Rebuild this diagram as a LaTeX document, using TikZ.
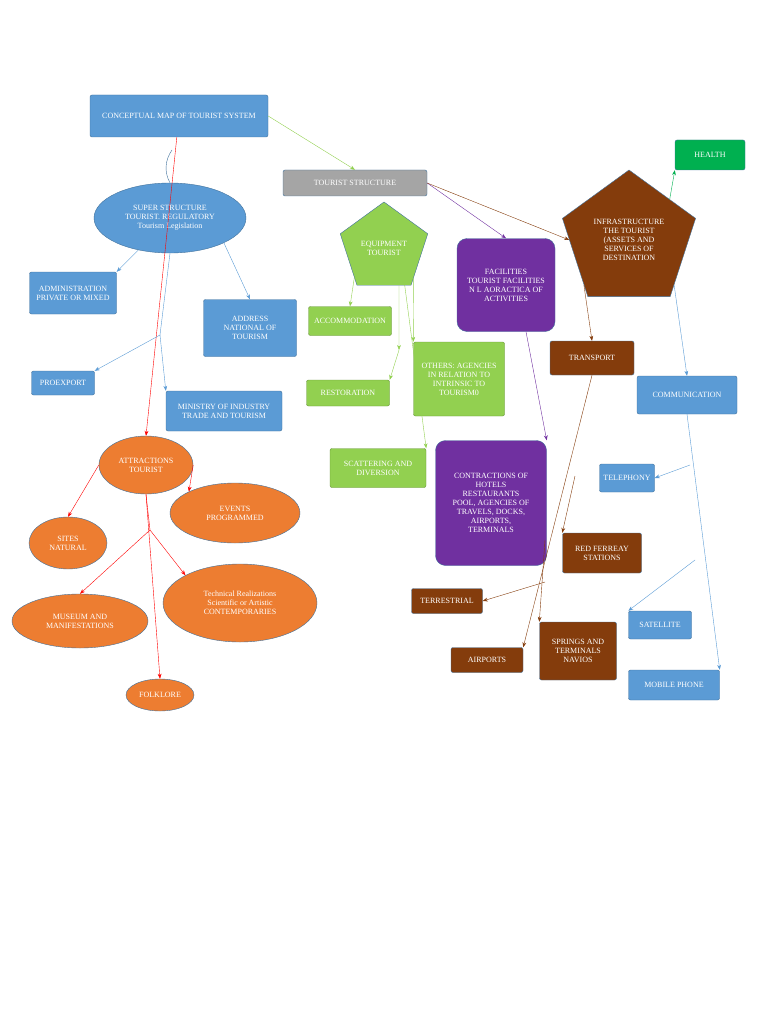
\documentclass[tikz,border=0pt]{standalone}
\usepackage{fontspec}
\setmainfont{Liberation Serif}
\usetikzlibrary{shapes.geometric,arrows.meta}
\definecolor{bl}{HTML}{5B9BD5}
\definecolor{bld}{HTML}{41719C}
\definecolor{gr}{HTML}{92D050}
\definecolor{or}{HTML}{ED7D31}
\definecolor{pu}{HTML}{7030A0}
\definecolor{br}{HTML}{843C0C}
\definecolor{gy}{HTML}{A5A5A5}
\definecolor{hg}{HTML}{00B050}
\begin{document}
\begin{tikzpicture}[x=1pt,y=-1pt,
 base/.style={draw=bld,text=white,font=\fontsize{8}{9}\selectfont,align=center,inner sep=1pt},
 box/.style={base,rounded corners=2pt,minimum width=#1},
 B/.style={box=#1,fill=bl},
 G/.style={box=#1,fill=gr,draw=gr!70!black},
 P/.style={box=#1,fill=pu,rounded corners=10pt},
 R/.style={box=#1,fill=br},
 O/.style={base,ellipse,fill=or},
 a/.style={-{Stealth[length=5pt]},thin},
]
\useasboundingbox (0,0) rectangle (768,1024);
% left
\node[B=178pt,minimum height=42pt] (title) at (179,116) {CONCEPTUAL MAP OF TOURIST SYSTEM};
\node[O,fill=bl,minimum width=152pt,minimum height=70pt] (super) at (170,218) {SUPER STRUCTURE\\TOURIST. REGULATORY\\Tourism Legislation};
\node[B=87pt,minimum height=42pt] (admin) at (73,293) {ADMINISTRATION\\PRIVATE OR MIXED};
\node[B=93pt,minimum height=57pt] (address) at (250,328) {ADDRESS\\NATIONAL OF\\TOURISM};
\node[B=63pt,minimum height=24pt] (proexport) at (63,383) {PROEXPORT};
\node[B=116pt,minimum height=40pt] (ministry) at (224,411) {MINISTRY OF INDUSTRY\\TRADE AND TOURISM};
\node[O,minimum width=94pt,minimum height=58pt] (attr) at (146,465) {ATTRACTIONS\\TOURIST};
\node[O,minimum width=130pt,minimum height=60pt] (events) at (235,513) {EVENTS\\PROGRAMMED};
\node[O,minimum width=78pt,minimum height=52pt] (sites) at (68,543) {SITES\\NATURAL};
\node[O,minimum width=136pt,minimum height=54pt] (museum) at (80,621) {MUSEUM AND\\MANIFESTATIONS};
\node[O,minimum width=154pt,minimum height=78pt] (tech) at (240,603) {Technical Realizations\\Scientific or Artistic\\CONTEMPORARIES};
\node[O,minimum width=68pt,minimum height=32pt] (folk) at (160,695) {FOLKLORE};
% middle
\node[box=144pt,fill=gy,draw=bld,minimum height=26pt] (ts) at (355,183) {TOURIST STRUCTURE};
\node[base,regular polygon,regular polygon sides=5,fill=gr,draw=bld,minimum size=92pt] (equip) at (384,248) {EQUIPMENT\\TOURIST};
\node[G=83pt,minimum height=29pt] (accom) at (350,321) {ACCOMMODATION};
\node[G=83pt,minimum height=26pt] (rest) at (348,393) {RESTORATION};
\node[G=91pt,minimum height=74pt] (others) at (459,379) {OTHERS: AGENCIES\\IN RELATION TO\\INTRINSIC TO\\TOURISM0};
\node[G=96pt,minimum height=39pt] (scat) at (378,468) {SCATTERING AND\\DIVERSION};
\node[P=98pt,minimum height=93pt] (fac) at (506,285) {FACILITIES\\TOURIST FACILITIES\\N L AORACTICA OF\\ACTIVITIES};
\node[P=111pt,minimum height=125pt] (contr) at (491,503) {CONTRACTIONS OF\\HOTELS\\RESTAURANTS\\POOL, AGENCIES OF\\TRAVELS, DOCKS,\\AIRPORTS,\\TERMINALS};
% right
\node[base,regular polygon,regular polygon sides=5,fill=br,draw=bld,minimum size=140pt] (infra) at (629,240) {INFRASTRUCTURE\\THE TOURIST\\(ASSETS AND\\SERVICES OF\\DESTINATION};
\node[box=70pt,fill=hg,minimum height=30pt] (health) at (710,155) {HEALTH};
\node[R=84pt,minimum height=34pt] (trans) at (592,358) {TRANSPORT};
\node[B=100pt,minimum height=38pt] (comm) at (687,395) {COMMUNICATION};
\node[B=55pt,minimum height=28pt] (tel) at (627,478) {TELEPHONY};
\node[R=79pt,minimum height=40pt] (red) at (602,553) {RED FERREAY\\STATIONS};
\node[R=71pt,minimum height=25pt] (terr) at (447,601) {TERRESTRIAL};
\node[R=72pt,minimum height=25pt] (air) at (487,660) {AIRPORTS};
\node[R=77pt,minimum height=58pt] (spr) at (578,651) {SPRINGS AND\\TERMINALS\\NAVIOS};
\node[B=63pt,minimum height=28pt] (sat) at (660,625) {SATELLITE};
\node[B=91pt,minimum height=30pt] (mob) at (674,685) {MOBILE PHONE};
% connectors
\draw[a,gr] (title.east) -- (ts.north);
\draw[a,red] (title) -- (attr.north);
\draw[bld] (172,150) .. controls (165,160) and (164,172) .. (super.north);
\draw[a,bl] (super) -- (admin.north east);
\draw[a,bl] (super.south east) -- (address.north);
\coordinate (sj) at (160,335);
\draw[bl] (super.south) -- (sj);
\draw[a,bl] (sj) -- (proexport.north east);
\draw[a,bl] (sj) -- (ministry.north west);
\draw[a,red] (attr.east) -- (events.north west);
\draw[a,red] (attr.west) -- (sites.north);
\coordinate (aj) at (150,530);
\draw[red] (attr.south) -- (aj);
\draw[a,red] (aj) -- (museum.north);
\draw[a,red] (aj) -- (tech.north west);
\draw[a,red] (attr.south) -- (folk.north);
\draw[a,pu] (ts.east) -- (fac.north);
\draw[a,br] (ts.east) -- (infra.west);
\draw[a,gr] (equip.south west) -- (accom.north);
\coordinate (ej) at (399,350);
\draw[a,gr] (equip.south) ++(15,0) -- (ej);
\draw[a,gr] (ej) -- (rest.north east);
\draw[a,gr] (404,280) -- (scat.north east);
\draw[a,gr] (equip.south east) -- (others.north west);
\draw[a,pu] (fac.south) ++(20,0) -- (contr.north east);
\draw[a,hg] (infra.north east) -- (health.south west);
\draw[a,br] (infra.south west) -- (trans.north);
\draw[a,bl] (infra.south east) -- (comm.north);
\draw[a,br] (trans.south) -- (air.north east);
\draw[a,br] (575,476) -- (red.north west);
\draw[a,br] (545,582) -- (terr.east);
\draw[a,br] (545,540) -- (spr.north west);
\draw[a,bl] (690,465) -- (tel.east);
\draw[a,bl] (comm.south) -- (mob.north east);
\draw[a,bl] (695,560) -- (sat.north west);
\end{tikzpicture}
\end{document}
